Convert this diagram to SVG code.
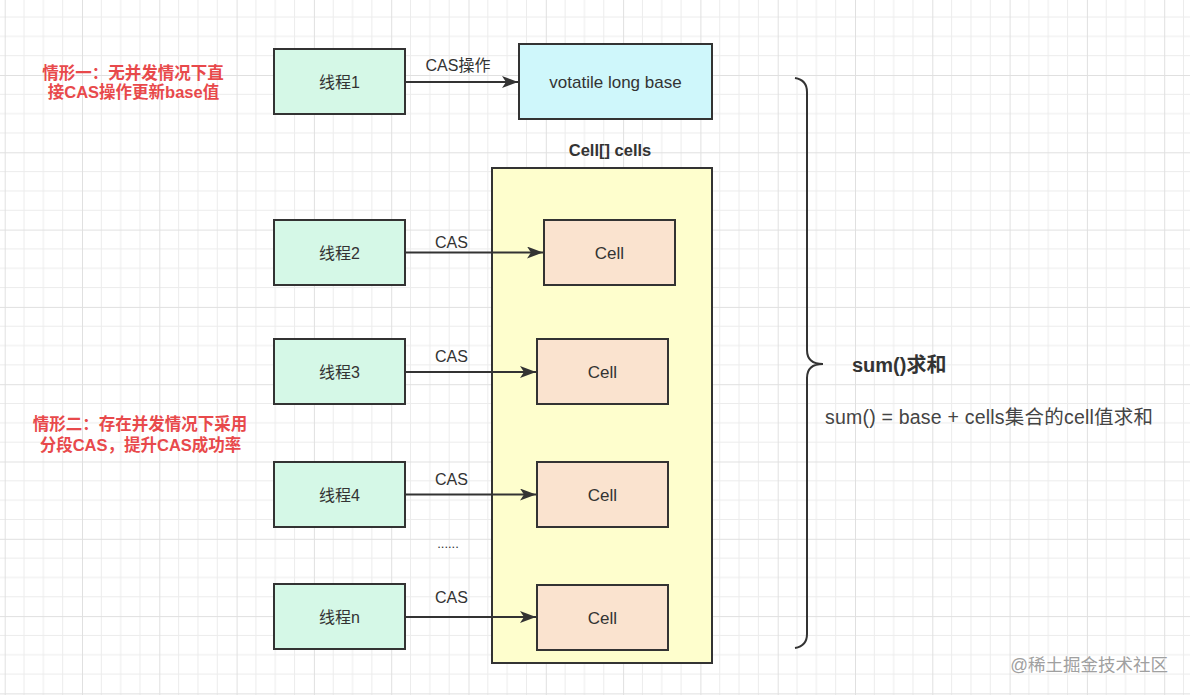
<svg xmlns="http://www.w3.org/2000/svg" width="1190" height="695" viewBox="0 0 1190 695">
<style>
.node{stroke:#333;stroke-width:2}
.thread{fill:#d5f8e7}
.base{fill:#cff7fb}
.cell{fill:#fae3cf}
.cont{fill:#fefecd}
.t{font-family:"Liberation Sans","Noto Sans CJK SC",sans-serif;fill:#333;text-anchor:middle;dominant-baseline:central}
.lbl{font-size:16px}
.lat{font-size:17px}
.red{font-family:"Liberation Sans","Noto Sans CJK SC",sans-serif;fill:#e8494b;font-size:16.5px;font-weight:bold;text-anchor:middle;dominant-baseline:central}
.edge{stroke:#333;stroke-width:2;fill:none;marker-end:url(#arr)}
</style>
<defs>
<pattern id="grid" x="4.7" y="-2.3" width="77.3" height="77.3" patternUnits="userSpaceOnUse">
<path d="M19.325 0V77.3M38.65 0V77.3M57.975 0V77.3M0 19.325H77.3M0 38.65H77.3M0 57.975H77.3" stroke="#ececec" stroke-width="1"/>
<path d="M0.5 0V77.3M0 0.5H77.3" stroke="#e0e0e0" stroke-width="1"/>
</pattern>
<marker id="arr" markerUnits="userSpaceOnUse" markerWidth="18" markerHeight="12" refX="16" refY="6" orient="auto" viewBox="0 0 18 12">
<path d="M0,0 L16,6 L0,12 L4,6 Z" fill="#333"/>
</marker>
</defs>
<rect width="1190" height="695" fill="#fff"/>
<rect width="1190" height="695" fill="url(#grid)"/>

<g id="note1">
<text class="red" x="133" y="72.5">情形一：无并发情况下直</text>
<text class="red" x="133.5" y="92">接CAS操作更新base值</text>
</g>
<g id="note2">
<text class="red" x="140" y="424">情形二：存在并发情况下采用</text>
<text class="red" x="140.5" y="445">分段CAS，提升CAS成功率</text>
</g>

<g id="base">
<rect class="node base" x="519" y="44" width="193" height="75"/>
<text class="t lat" x="615.5" y="82">votatile long base</text>
</g>

<g id="cells">
<text class="t" x="610" y="150" font-size="16.5" font-weight="bold">Cell[] cells</text>
<rect class="node cont" x="492" y="168" width="220" height="495"/>
</g>

<g id="cell1"><rect class="node cell" x="544" y="220" width="131" height="65"/><text class="t lat" x="609.5" y="253">Cell</text></g>
<g id="cell2"><rect class="node cell" x="537" y="339" width="131" height="65"/><text class="t lat" x="602.5" y="372">Cell</text></g>
<g id="cell3"><rect class="node cell" x="537" y="462" width="131" height="65"/><text class="t lat" x="602.5" y="495">Cell</text></g>
<g id="cell4"><rect class="node cell" x="537" y="585" width="131" height="65"/><text class="t lat" x="602.5" y="618">Cell</text></g>

<g id="thread1"><rect class="node thread" x="274" y="49" width="131" height="65"/><text class="t lbl" x="339.5" y="82">线程1</text></g>
<g id="thread2"><rect class="node thread" x="274" y="220" width="131" height="65"/><text class="t lbl" x="339.5" y="253">线程2</text></g>
<g id="thread3"><rect class="node thread" x="274" y="339" width="131" height="65"/><text class="t lbl" x="339.5" y="372">线程3</text></g>
<g id="thread4"><rect class="node thread" x="274" y="462" width="131" height="65"/><text class="t lbl" x="339.5" y="495">线程4</text></g>
<g id="threadn"><rect class="node thread" x="274" y="584" width="131" height="65"/><text class="t lbl" x="339.5" y="617">线程n</text></g>

<g id="connectors">
<path class="edge" d="M405 82H518"/>
<path class="edge" d="M405 252.5H543"/>
<path class="edge" d="M405 372H536"/>
<path class="edge" d="M405 494.5H536"/>
<path class="edge" d="M405 617H536"/>
<text class="t lbl" x="458" y="65">CAS操作</text>
<text class="t lbl" x="451.5" y="242">CAS</text>
<text class="t lbl" x="451.5" y="356">CAS</text>
<text class="t lbl" x="451.5" y="479">CAS</text>
<text class="t lbl" x="451.5" y="597">CAS</text>
<text class="t" x="448" y="543" font-size="13">......</text>
</g>

<g id="brace">
<path d="M795 78 Q807 80 807 92 V350 Q807 364 823 364 Q807 364 807 378 V634 Q807 646 795 648" fill="none" stroke="#333" stroke-width="2"/>
</g>

<g id="sum">
<text x="852" y="365" font-family="'Liberation Sans','Noto Sans CJK SC',sans-serif" font-size="20" font-weight="bold" fill="#333" dominant-baseline="central">sum()求和</text>
<text x="825" y="417" font-family="'Liberation Sans','Noto Sans CJK SC',sans-serif" font-size="19.5" fill="#444" dominant-baseline="central" textLength="328" lengthAdjust="spacing">sum() = base + cells集合的cell值求和</text>
</g>

<text x="1168" y="665" font-family="'Liberation Sans','Noto Sans CJK SC',sans-serif" font-size="17.5" fill="#a0a0a0" text-anchor="end" dominant-baseline="central">@稀土掘金技术社区</text>
</svg>
